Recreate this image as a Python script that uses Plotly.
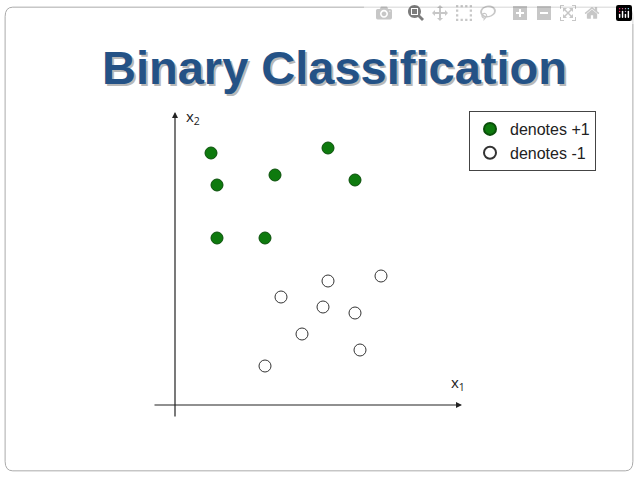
import plotly.graph_objects as go

# puntos clase +1 (x1, x2)
pos_x1 = [36, 42, 100, 153, 180, 42, 90]
pos_x2 = [252, 220, 230, 257, 225, 167, 167]
# puntos clase -1
neg_x1 = [206, 153, 106, 148, 180, 127, 185, 90]
neg_x2 = [129, 124, 108, 98, 92, 71, 55, 39]

fig = go.Figure()
fig.add_trace(go.Scatter(x=pos_x1, y=pos_x2, mode='markers', name='denotes +1',
                         marker=dict(size=12, color='#0e7a0e', line=dict(color='#0a4f0a', width=1))))
fig.add_trace(go.Scatter(x=neg_x1, y=neg_x2, mode='markers', name='denotes -1',
                         marker=dict(size=12, color='white', line=dict(color='#333333', width=1))))

# ejes con flechas
fig.add_annotation(x=0, y=293, ax=0, ay=-13, xref='x', yref='y', axref='x', ayref='y',
                   showarrow=True, arrowhead=2, arrowsize=1, arrowwidth=1.2, arrowcolor='#222', text='')
fig.add_annotation(x=287, y=0, ax=-22, ay=0, xref='x', yref='y', axref='x', ayref='y',
                   showarrow=True, arrowhead=2, arrowsize=1, arrowwidth=1.2, arrowcolor='#222', text='')
fig.add_annotation(x=18, y=288, text='x<sub>2</sub>', showarrow=False, font=dict(size=15, color='#222'))
fig.add_annotation(x=283, y=22, text='x<sub>1</sub>', showarrow=False, font=dict(size=15, color='#222'))

# titulo con sombra
for dx, col in [(2, '#b8b8b8'), (0, '#245286')]:
    fig.add_annotation(xref='paper', yref='paper', x=0.525 + dx / 638, y=1 - 67 / 478 - dx / 478,
                       xanchor='center', yanchor='middle',
                       text='<b>Binary Classification</b>', showarrow=False,
                       font=dict(family='Liberation Sans, Arial', size=47, color=col))

# marco redondeado
fig.add_shape(type='path', xref='paper', yref='paper',
              path='M 0.02,0.985 L 0.98,0.985 Q 0.992,0.985 0.992,0.965 L 0.992,0.035 Q 0.992,0.015 0.98,0.015 '
                   'L 0.02,0.015 Q 0.008,0.015 0.008,0.035 L 0.008,0.965 Q 0.008,0.985 0.02,0.985 Z',
              line=dict(color='#aaaaaa', width=1))

fig.update_layout(
    width=638, height=478, margin=dict(l=0, r=0, t=0, b=0),
    plot_bgcolor='white', paper_bgcolor='white',
    xaxis=dict(range=[-175, 463], visible=False),
    yaxis=dict(range=[-73, 405], visible=False),
    showlegend=True,
    legend=dict(x=469 / 638, y=1 - 111 / 478, xanchor='left', yanchor='top',
                bordercolor='#444', borderwidth=1, bgcolor='white',
                font=dict(family='Liberation Sans, Arial', size=16, color='#222'),
                itemsizing='constant', itemwidth=30, tracegroupgap=4),
)
fig.write_html("out.html", post_script="document.body.style.margin='0';")
